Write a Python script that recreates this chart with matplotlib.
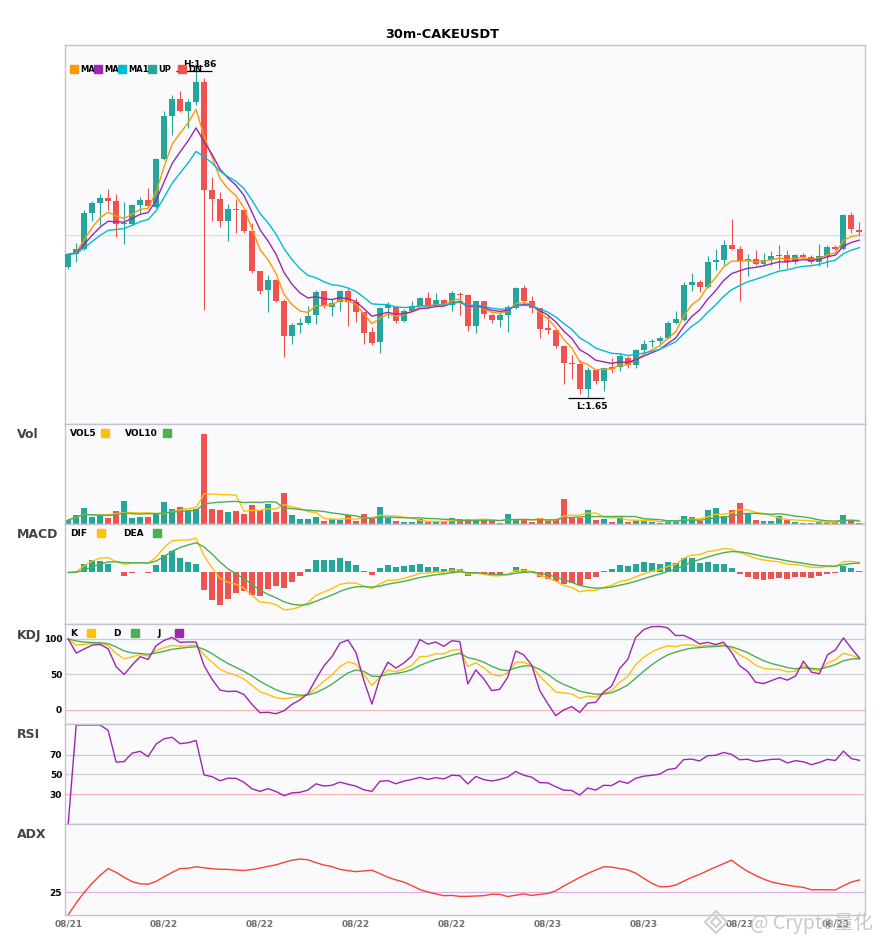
import numpy as np
import pandas as pd
import matplotlib
matplotlib.use('Agg')
import matplotlib.pyplot as plt
from matplotlib.patches import Rectangle, Polygon
from matplotlib.transforms import Bbox, TransformedBbox

# 30m candles
symbol = '30m-CAKEUSDT'
times = pd.date_range('2024-08-21 18:00', periods=100, freq='30min')

opens = [1.7343, 1.7429, 1.7457, 1.7688, 1.7752, 1.7784, 1.7765, 1.7619, 1.7622, 1.7739,
         1.7771, 1.7728, 1.8036, 1.8310, 1.8420, 1.8344, 1.8402, 1.8529, 1.7835, 1.7778,
         1.7638, 1.7713, 1.7707, 1.7572, 1.7315, 1.7193, 1.7258, 1.7123, 1.6900, 1.6971,
         1.6980, 1.7035, 1.7187, 1.7086, 1.7118, 1.7187, 1.7118, 1.7052, 1.6922, 1.6861,
         1.7080, 1.7086, 1.6996, 1.7061, 1.7095, 1.7144, 1.7091, 1.7131, 1.7097, 1.7172,
         1.7161, 1.6964, 1.7123, 1.7037, 1.7003, 1.7033, 1.7080, 1.7206, 1.7123, 1.7080,
         1.6949, 1.6937, 1.6834, 1.6725, 1.6718, 1.6558, 1.6680, 1.6609, 1.6701, 1.6701,
         1.6761, 1.6712, 1.6808, 1.6858, 1.6870, 1.6888, 1.6984, 1.7005, 1.7227, 1.7245,
         1.7215, 1.7375, 1.7386, 1.7482, 1.7457, 1.7380, 1.7392, 1.7360, 1.7386, 1.7412,
         1.7418, 1.7373, 1.7418, 1.7405, 1.7373, 1.7412, 1.7469, 1.7457, 1.7675, 1.7579]
highs = [1.7424, 1.7500, 1.7711, 1.7767, 1.7814, 1.7842, 1.7810, 1.7758, 1.7745, 1.7790,
         1.7848, 1.8043, 1.8343, 1.8445, 1.8473, 1.8420, 1.8601, 1.8559, 1.7921, 1.7824,
         1.7745, 1.7780, 1.7711, 1.7625, 1.7315, 1.7290, 1.7264, 1.7134, 1.6986, 1.7016,
         1.7095, 1.7193, 1.7187, 1.7138, 1.7193, 1.7202, 1.7146, 1.7052, 1.6958, 1.7086,
         1.7118, 1.7091, 1.7071, 1.7123, 1.7150, 1.7181, 1.7174, 1.7138, 1.7187, 1.7184,
         1.7168, 1.7123, 1.7123, 1.7039, 1.7063, 1.7097, 1.7215, 1.7224, 1.7155, 1.7080,
         1.7037, 1.6937, 1.6834, 1.6776, 1.6744, 1.6701, 1.6680, 1.6697, 1.6761, 1.6787,
         1.6774, 1.6817, 1.6872, 1.6883, 1.6898, 1.6994, 1.7059, 1.7247, 1.7301, 1.7258,
         1.7412, 1.7457, 1.7514, 1.7649, 1.7476, 1.7424, 1.7450, 1.7433, 1.7444, 1.7482,
         1.7450, 1.7424, 1.7431, 1.7420, 1.7489, 1.7482, 1.7482, 1.7681, 1.7694, 1.7630]
lows = [1.7333, 1.7375, 1.7450, 1.7638, 1.7611, 1.7707, 1.7536, 1.7491, 1.7611, 1.7686,
        1.7728, 1.7724, 1.8028, 1.8188, 1.8338, 1.8238, 1.8381, 1.7069, 1.7638, 1.7600,
        1.7510, 1.7561, 1.7561, 1.7301, 1.7170, 1.7054, 1.7116, 1.6765, 1.6847, 1.6919,
        1.6975, 1.6975, 1.7080, 1.7028, 1.7059, 1.6964, 1.6990, 1.6847, 1.6842, 1.6791,
        1.7018, 1.6986, 1.6992, 1.7059, 1.7091, 1.7086, 1.7086, 1.7091, 1.7059, 1.7037,
        1.6930, 1.6919, 1.7016, 1.6980, 1.6958, 1.6926, 1.7076, 1.7102, 1.7048, 1.6887,
        1.6915, 1.6823, 1.6594, 1.6624, 1.6530, 1.6502, 1.6594, 1.6547, 1.6659, 1.6673,
        1.6691, 1.6691, 1.6787, 1.6829, 1.6834, 1.6882, 1.6975, 1.6996, 1.7189, 1.7182,
        1.7211, 1.7322, 1.7354, 1.7450, 1.7125, 1.7283, 1.7354, 1.7347, 1.7354, 1.7328,
        1.7335, 1.7365, 1.7399, 1.7365, 1.7347, 1.7343, 1.7450, 1.7450, 1.7561, 1.7540]
closes = [1.7424, 1.7457, 1.7688, 1.7752, 1.7784, 1.7767, 1.7619, 1.7625, 1.7739, 1.7771,
          1.7735, 1.8036, 1.8310, 1.8420, 1.8344, 1.8400, 1.8529, 1.7837, 1.7780, 1.7638,
          1.7713, 1.7707, 1.7572, 1.7317, 1.7189, 1.7258, 1.7125, 1.6900, 1.6967, 1.6980,
          1.7031, 1.7181, 1.7095, 1.7114, 1.7187, 1.7118, 1.7054, 1.6919, 1.6855, 1.7080,
          1.7097, 1.6996, 1.7059, 1.7095, 1.7144, 1.7091, 1.7129, 1.7097, 1.7174, 1.7163,
          1.6964, 1.7123, 1.7041, 1.7003, 1.7033, 1.7084, 1.7206, 1.7123, 1.7080, 1.6943,
          1.6937, 1.6834, 1.6727, 1.6718, 1.6558, 1.6680, 1.6609, 1.6697, 1.6688, 1.6770,
          1.6712, 1.6808, 1.6851, 1.6868, 1.6888, 1.6982, 1.7007, 1.7225, 1.7245, 1.7215,
          1.7373, 1.7386, 1.7482, 1.7457, 1.7380, 1.7392, 1.7360, 1.7386, 1.7412, 1.7418,
          1.7373, 1.7418, 1.7405, 1.7373, 1.7412, 1.7469, 1.7457, 1.7675, 1.7587, 1.7566]
# volume in thousands
volumes = [100, 232, 400, 175, 218, 150, 325, 575, 150, 175,
           175, 242, 550, 375, 425, 325, 375, 2250, 375, 350,
           300, 325, 250, 475, 350, 500, 300, 775, 225, 125,
           125, 175, 75, 118, 108, 218, 75, 250, 125, 425,
           150, 75, 50, 50, 125, 50, 50, 50, 150, 125,
           125, 100, 100, 75, 25, 250, 100, 100, 50, 150,
           75, 100, 625, 150, 150, 350, 100, 125, 50, 175,
           50, 75, 75, 50, 25, 100, 100, 200, 175, 75,
           350, 400, 200, 350, 525, 275, 100, 75, 75, 200,
           100, 50, 25, 25, 75, 50, 50, 225, 100, 25]

df = pd.DataFrame({'open': opens, 'high': highs, 'low': lows,
                   'close': closes, 'vol': volumes}, index=times)
c = df['close']

# indicators
ma5 = c.ewm(span=5, adjust=False).mean()
ma8 = c.ewm(span=8, adjust=False).mean()
ma13 = c.ewm(span=13, adjust=False).mean()

vol5 = df['vol'].rolling(5, min_periods=1).mean()
vol10 = df['vol'].rolling(10, min_periods=1).mean()

dif = c.ewm(span=5, adjust=False).mean() - c.ewm(span=13, adjust=False).mean()
dea = dif.ewm(span=5, adjust=False).mean()
macd = 2 * (dif - dea)

llv = df['low'].rolling(9, min_periods=1).min()
hhv = df['high'].rolling(9, min_periods=1).max()
rsv = (c - llv) / (hhv - llv) * 100
k = rsv.ewm(com=2, adjust=False).mean()
d = k.ewm(com=2, adjust=False).mean()
j = 3 * k - 2 * d

delta = c.diff()
gain = delta.clip(lower=0).ewm(com=13).mean()
loss = (-delta.clip(upper=0)).ewm(com=13).mean()
rsi = (100 * gain / (gain + loss)).fillna(0)

prev_c = c.shift()
tr = pd.concat([df['high'] - df['low'], (df['high'] - prev_c).abs(),
                (df['low'] - prev_c).abs()], axis=1).max(axis=1)
up_move = df['high'].diff()
dn_move = -df['low'].diff()
pdm = pd.Series(np.where((up_move > dn_move) & (up_move > 0), up_move, 0.0), index=times)
mdm = pd.Series(np.where((dn_move > up_move) & (dn_move > 0), dn_move, 0.0), index=times)
atr = tr.ewm(span=14, adjust=False).mean()
pdi = 100 * pdm.ewm(span=14, adjust=False).mean() / atr
mdi = 100 * mdm.ewm(span=14, adjust=False).mean() / atr
dx = (100 * (pdi - mdi).abs() / (pdi + mdi)).fillna(0)
adx = dx.ewm(span=14, adjust=False).mean()

# colours
UP, DN = '#26a69a', '#ef5350'
ORANGE, PURPLE, CYAN = '#ff9800', '#9c27b0', '#00bcd4'
YELLOW, GREEN = '#ffc107', '#4caf50'
FACE, EDGE = '#fafafc', '#c3c3cb'
SMALL = 6.5

x = np.arange(len(df))
up = (df['close'] >= df['open']).values
colors = np.where(up, UP, DN)

W, H = 885, 950
fig = plt.figure(figsize=(W / 100, H / 100), dpi=100)

# panel rows in pixels (top, bottom)
rows = [(45, 424), (424, 524), (524, 624), (624, 724), (724, 824), (824, 915)]
axes = []
for top, bot in rows:
    ax = fig.add_axes([65 / W, 1 - bot / H, 800 / W, (bot - top) / H])
    ax.set_facecolor(FACE)
    for s in ax.spines.values():
        s.set_color(EDGE)
        s.set_linewidth(1)
    ax.set_xlim(-0.4, 99.7)
    ax.tick_params(length=0, labelsize=SMALL, pad=2)
    ax.set_xticks([])
    ax.set_yticks([])
    axes.append(ax)
ax_p, ax_v, ax_m, ax_k, ax_r, ax_a = axes

# price
bw = 0.75
lo, hi = df['low'].min(), df['high'].max()
rng = hi - lo
body_lo = np.minimum(df['open'], df['close'])
body_h = np.maximum((df['close'] - df['open']).abs(), rng * 0.003)
ax_p.vlines(x, df['low'], df['high'], colors=colors, linewidth=0.8, zorder=2)
ax_p.bar(x, body_h, bw, bottom=body_lo, color=colors, zorder=3)
ax_p.plot(x, ma5, color=ORANGE, lw=1.0, zorder=4)
ax_p.plot(x, ma8, color=PURPLE, lw=1.0, zorder=4)
ax_p.plot(x, ma13, color=CYAN, lw=1.0, zorder=4)
ax_p.set_ylim(lo - 0.08 * rng, hi + 0.08 * rng)
ax_p.axhline(sum(ax_p.get_ylim()) / 2, color='#dcdce6', lw=0.8, zorder=1)

ih, il = int(df['high'].values.argmax()), int(df['low'].values.argmin())
ax_p.hlines(hi, ih - 2.5, ih + 2, color='black', lw=0.9, zorder=5)
ax_p.text(ih + 0.5, hi + rng * 0.008, f'H:{hi:.2f}', ha='center', va='bottom',
          fontsize=SMALL, fontweight='bold', zorder=5)
ax_p.hlines(lo, il - 2.5, il + 2, color='black', lw=0.9, zorder=5)
ax_p.text(il + 0.5, lo - rng * 0.014, f'L:{lo:.2f}', ha='center', va='top',
          fontsize=SMALL, fontweight='bold', zorder=5)

# volume
ax_v.bar(x, df['vol'], bw, color=colors, zorder=2)
ax_v.plot(x, vol5, color=YELLOW, lw=1.0, zorder=3)
ax_v.plot(x, vol10, color=GREEN, lw=1.0, zorder=3)
ax_v.set_ylim(0, df['vol'].max() * 1.11)

# macd
ax_m.bar(x, macd, bw, color=np.where(macd >= 0, UP, DN), zorder=2)
ax_m.plot(x, dif, color=YELLOW, lw=1.0, zorder=3)
ax_m.plot(x, dea, color=GREEN, lw=1.0, zorder=3)
mlo = min(dif.min(), dea.min(), macd.min())
mhi = max(dif.max(), dea.max(), macd.max())
ax_m.set_ylim(mlo - 0.2 * (mhi - mlo), mhi + 0.2 * (mhi - mlo))

# kdj
ax_k.axhline(100, color='#a8dcd6', lw=0.9)
ax_k.axhline(50, color='#cfcfd4', lw=0.9)
ax_k.axhline(0, color='#f7b8b8', lw=0.9)
ax_k.plot(x, k, color=YELLOW, lw=1.0)
ax_k.plot(x, d, color=GREEN, lw=1.0)
ax_k.plot(x, j, color=PURPLE, lw=1.0)
ax_k.set_ylim(-20, 121)
ax_k.set_yticks([0, 50, 100])

# rsi
ax_r.axhline(70, color='#a8dcd6', lw=0.9)
ax_r.axhline(50, color='#cfcfd4', lw=0.9)
ax_r.axhline(30, color='#f7b8b8', lw=0.9)
ax_r.plot(x, rsi, color=PURPLE, lw=1.0)
ax_r.set_ylim(0, 101)
ax_r.set_yticks([30, 50, 70])

# adx
ax_a.axhline(25, color='#ddb0e4', lw=0.9)
ax_a.plot(x, adx, color='#f44336', lw=1.0)
ax_a.set_ylim(0, 100)
ax_a.set_yticks([25])

for ax in (ax_k, ax_r, ax_a):
    for t in ax.get_yticklabels():
        t.set_fontweight('bold')

tick_idx = list(range(0, 100, 12))
ax_a.set_xticks(tick_idx)
ax_a.set_xticklabels(times[tick_idx].strftime('%m/%d'), fontsize=SMALL,
                     fontweight='bold', color='#707070')
ax_a.tick_params(axis='x', pad=3)

# titles and labels
fig.text(0.5, 1 - 34 / H, symbol, ha='center', va='center', fontsize=9.3, fontweight='bold')
for name, top in zip(['Vol', 'MACD', 'KDJ', 'RSI', 'ADX'], [424, 524, 624, 724, 824]):
    fig.text(17 / W, 1 - (top + 11) / H, name, ha='left', va='center',
             fontsize=9, fontweight='bold', color='#444444')


def legend_square(px, py, color, z=1):
    fig.add_artist(Rectangle((px / W, 1 - (py + 4) / H), 8 / W, 8 / H,
                             transform=fig.transFigure, color=color, zorder=z))


# price legend: square then text, each text tucked under the next square
price_items = [('MA5', ORANGE, 70), ('MA8', PURPLE, 94), ('MA13', CYAN, 118),
               ('UP', UP, 148), ('DN', DN, 178)]
for n, (label, col, px) in enumerate(price_items):
    legend_square(px, 69, col, z=5)
    t = fig.text((px + 10) / W, 1 - 69 / H, label, ha='left', va='center',
                 fontsize=6, fontweight='bold', zorder=4)
    if n + 1 < len(price_items):
        nxt = price_items[n + 1][2]
        t.set_clip_box(TransformedBbox(Bbox([[0, 0], [nxt / W, 1]]), fig.transFigure))
        t.set_clip_on(True)

# indicator legends: text then square
ind_legends = [
    (424, [('VOL5', YELLOW, 70, 101), ('VOL10', GREEN, 125, 163)]),
    (524, [('DIF', YELLOW, 70, 97), ('DEA', GREEN, 123, 153)]),
    (624, [('K', YELLOW, 70, 87), ('D', GREEN, 113, 131), ('J', PURPLE, 157, 175)]),
]
for top, items in ind_legends:
    for label, col, tx, sx in items:
        fig.text(tx / W, 1 - (top + 10) / H, label, ha='left', va='center',
                 fontsize=SMALL, fontweight='bold')
        legend_square(sx, top + 9, col)

# watermark with a small diamond logo
for cx, r in [(716, 11), (716, 5)]:
    fig.add_artist(Polygon([((cx - r) / W, 1 - 922 / H), (cx / W, 1 - (922 - r) / H),
                            ((cx + r) / W, 1 - 922 / H), (cx / W, 1 - (922 + r) / H)],
                           closed=True, fill=False, edgecolor='#cfcfcf', lw=1.5,
                           transform=fig.transFigure, zorder=10))
fig.text(750 / W, 1 - 923 / H, '@ Crypto量化', ha='left', va='center', fontsize=14,
         color='#c4c4c4', alpha=0.9, family=['Noto Sans CJK SC', 'DejaVu Sans'], zorder=10)

fig.savefig('out.png', dpi=100)
